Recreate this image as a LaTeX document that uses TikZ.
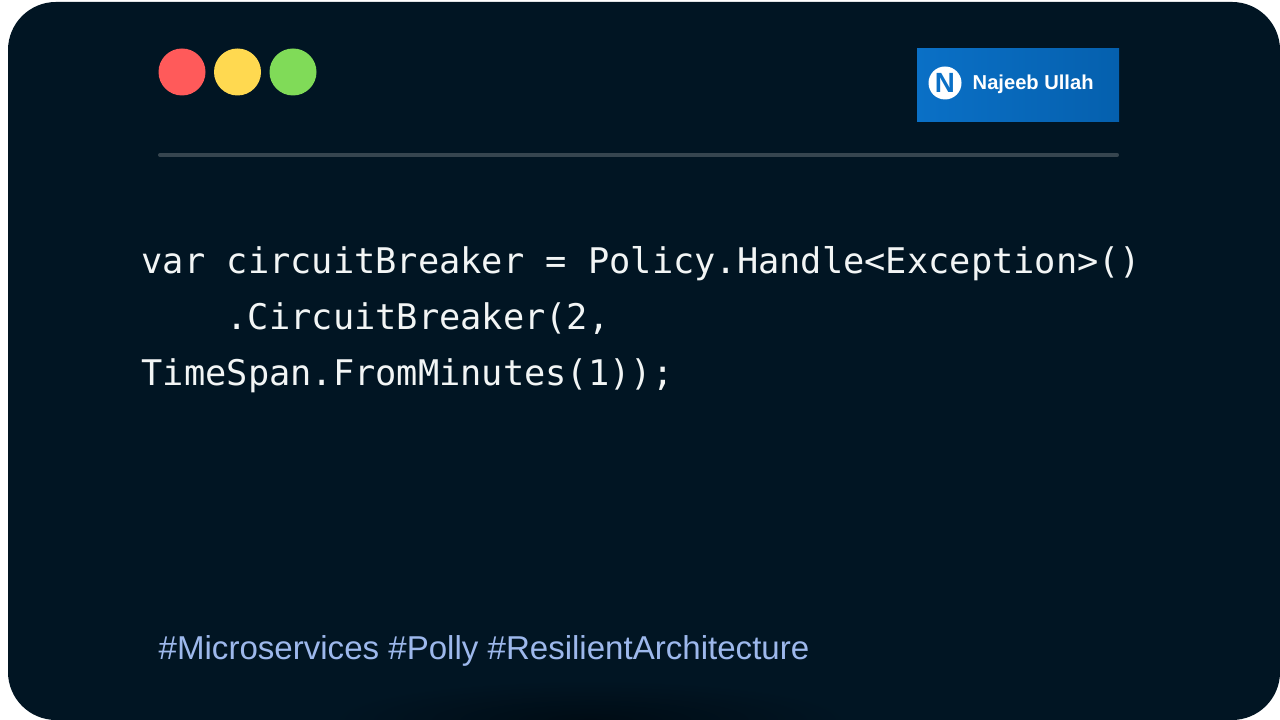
\documentclass[tikz,border=0pt]{standalone}
\usepackage{fontspec}
\setmainfont{Liberation Sans}
\setmonofont{DejaVu Sans Mono}
\usetikzlibrary{positioning}
\definecolor{mpanel}{HTML}{011523}
\definecolor{mshadow}{HTML}{000C15}
\definecolor{mrule}{HTML}{36454F}
\definecolor{mred}{HTML}{FF5A5A}
\definecolor{myellow}{HTML}{FFD950}
\definecolor{mgreen}{HTML}{80DB58}
\definecolor{mcode}{HTML}{F2F5F5}
\definecolor{mtag}{HTML}{9DB8EC}
\definecolor{mbluea}{HTML}{0A70C6}
\definecolor{mblueb}{HTML}{0560AE}
\tikzset{dotnode/.style = {circle, minimum size=0.47cm, inner sep=0pt, outer sep=0pt},
         codeline/.style = {anchor=base west, inner sep=0pt, text=mcode,
                            font=\fontsize{10.05}{12}\ttfamily}}

\begin{document}
\begin{tikzpicture}
    \useasboundingbox (0, 0) rectangle (12.8, 7.2);
    \fill [white] (0, 0) rectangle (12.8, 7.2);

    % panel
    \begin{scope}
      \clip [rounded corners=0.48cm] (0.08, 0) rectangle (12.8, 7.18);
      \fill [mpanel] (0, 0) rectangle (12.8, 7.2);
      \shade [inner color=mshadow, outer color=mpanel] (5.9, 0) ellipse (2.6 and 0.4);
    \end{scope}

    % window buttons
    \node [dotnode, fill=mred] (btnred) at (1.82, 6.48) {};
    \node [dotnode, fill=myellow, right=0.085cm of btnred] (btnyellow) {};
    \node [dotnode, fill=mgreen, right=0.085cm of btnyellow] (btngreen) {};

    % badge
    \node [minimum width=2.02cm, minimum height=0.73cm, inner sep=0pt, outer sep=0pt,
           left color=mbluea, right color=mblueb, anchor=north west] (badge) at (9.17, 6.715) {};
    \node [circle, fill=white, minimum size=0.33cm, inner sep=0pt, text=mbluea,
           font=\fontsize{7.9}{8}\bfseries] (badgelogo) at (9.45, 6.37) {N};
    \node [anchor=base west, inner sep=0pt, text=white,
           font=\fontsize{5.73}{6}\bfseries] (badgename) at (9.72, 6.3) {Najeeb Ullah};

    % divider
    \draw [mrule, line width=0.04cm, line cap=round] (1.6, 5.65) -- (11.17, 5.65);

    % code
    \node [codeline] (codea) at (1.41, 4.46) {var circuitBreaker = Policy.Handle<Exception>()};
    \node [codeline] (codeb) at (2.26, 3.9) {.CircuitBreaker(2,};
    \node [codeline] (codec) at (1.41, 3.34) {TimeSpan.FromMinutes(1));};

    % hashtags
    \node [anchor=base west, inner sep=0pt, text=mtag, font=\fontsize{9.41}{11}\selectfont]
      (tags) at (1.58, 0.6) {\#Microservices \#Polly \#ResilientArchitecture};
  \end{tikzpicture}
\end{document}
